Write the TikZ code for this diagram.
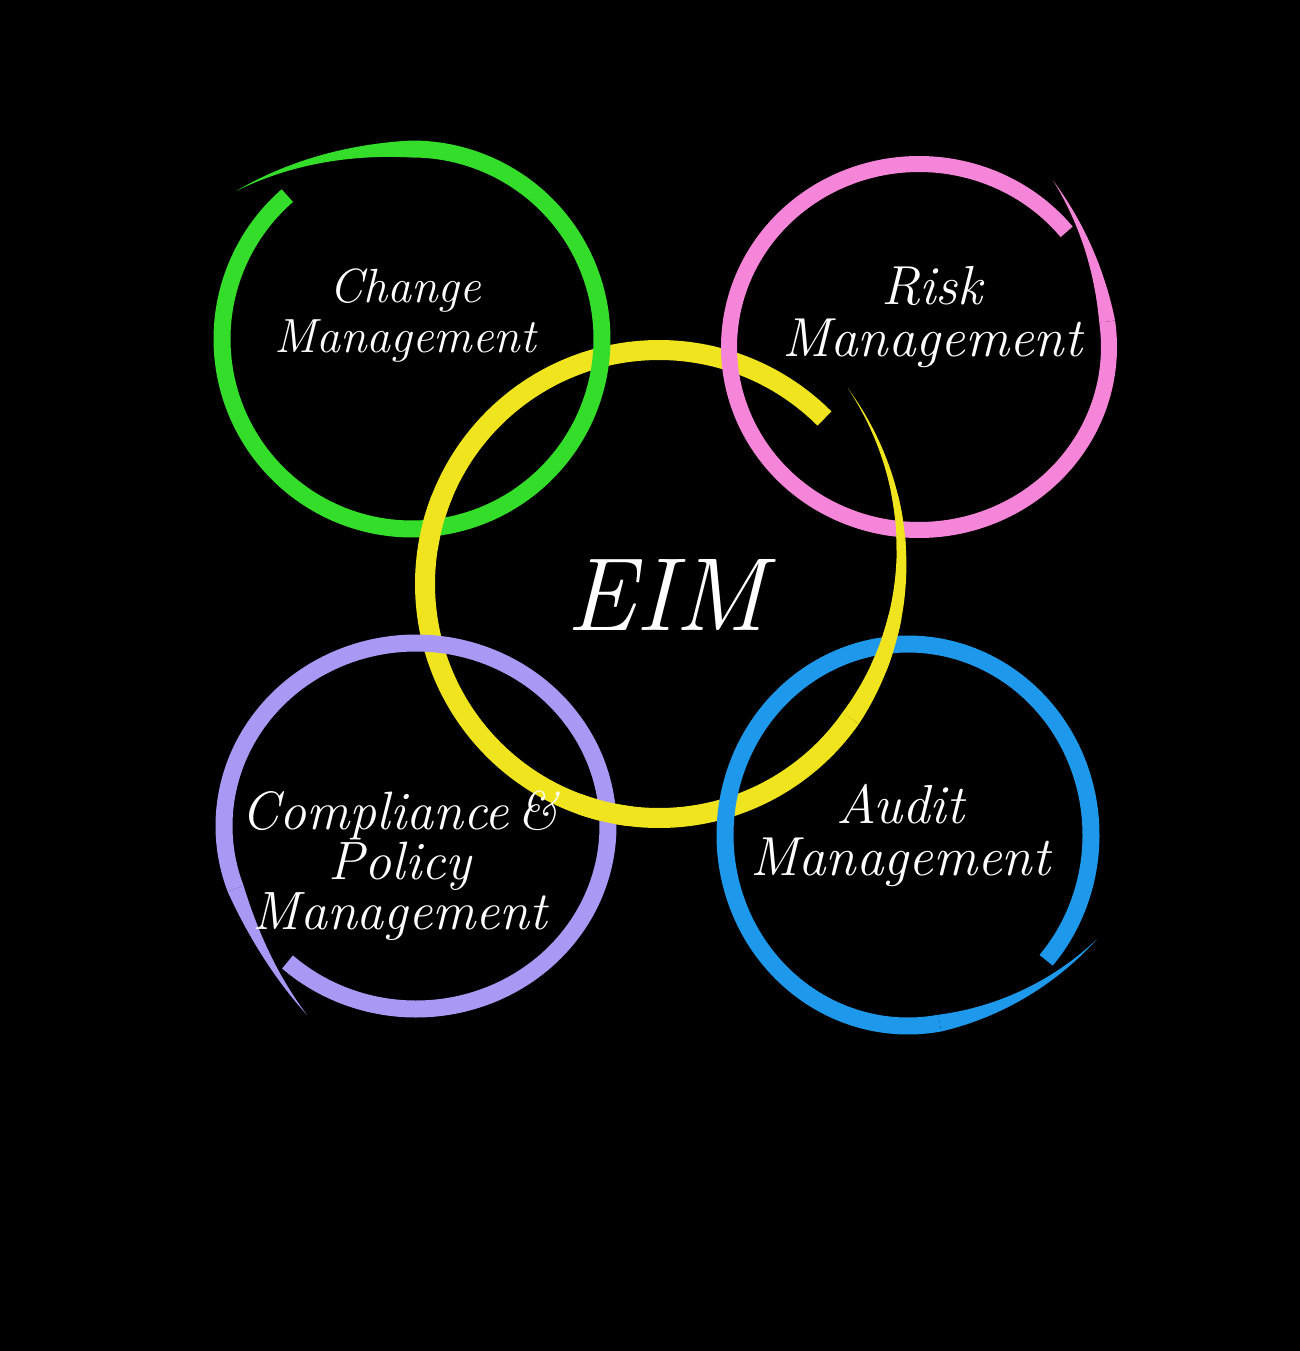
\documentclass[tikz,border=0pt]{standalone}
\usepackage{fontspec}
\usepackage{tikz}
\definecolor{cgreen}{HTML}{33DD2A}
\definecolor{cpink}{HTML}{F585D8}
\definecolor{cyellow}{HTML}{F0E41E}
\definecolor{cpurple}{HTML}{AA98F5}
\definecolor{cblue}{HTML}{1E98EB}

\tikzset{
  lbl/.style={text=white, align=center, inner sep=0pt, font=\itshape\fontsize{55}{52}\selectfont},
}

% brush ring: colour, centre, rx, ry, start, end of thick part, tail end, drift, width
\newcommand{\brushring}[9]{%
  \def\brS{(((#6)-(\x))/((#6)-(#7)))}%
  \begin{scope}[shift={(#2)}]
    \draw[color=#1, line width=#9pt] plot[domain=#5:#6, samples=120, smooth] ({#3*cos(\x)},{#4*sin(\x)});
    \fill[color=#1] plot[domain=#6:#7, samples=40, smooth]
        ({(#3+#8*\brS^2+#9/2*(1-\brS))*cos(\x)},{(#4+#8*\brS^2+#9/2*(1-\brS))*sin(\x)})
      -- plot[domain=#7:#6, samples=40, smooth]
        ({(#3+#8*\brS^2-#9/2*(1-\brS))*cos(\x)},{(#4+#8*\brS^2-#9/2*(1-\brS))*sin(\x)})
      -- cycle;
  \end{scope}}
\newcommand{\eimring}{\brushring{cyellow}{eimc}{234}{234}{-45}{-325}{-406}{38}{20}}

\begin{document}
\begin{tikzpicture}[x=1pt,y=-1pt]
  \fill[black] (0,0) rectangle (1300,1351);
  \useasboundingbox (0,0) rectangle (1300,1351);

  \coordinate (eimc) at (659,584);
  \coordinate (chgc) at (412,339);
  \coordinate (riskc) at (919,347);
  \coordinate (compc) at (416,826);
  \coordinate (auditc) at (908,835);

  \eimring
  \brushring{cgreen}{chgc}{190}{190}{229}{-90}{-140}{40}{17}
  \brushring{cpink}{riskc}{190}{183}{-39}{-368}{-412}{28}{16}
  \brushring{cpurple}{compc}{192}{183}{492}{160}{119}{33}{17}
  \brushring{cblue}{auditc}{183}{191}{401}{80}{28}{31}{17}

  % yellow passes over here
  \foreach \p in {(440,522),(896,522),(605,808),(888,643)}{
    \begin{scope}
      \clip \p circle[radius=28pt];
      \eimring
    \end{scope}
  }

  \node[lbl, font=\itshape\fontsize{48}{50}\selectfont] (chg) at (405,315) {Change\\Management};
  \node[lbl] (risk) at (932,317) {Risk\\Management};
  \node[lbl, font=\itshape\fontsize{104}{104}\selectfont, anchor=base] (eim) at (666,630) {EIM};
  \node[lbl, font=\itshape\fontsize{54}{50}\selectfont] (comp) at (400,866) {Compliance\,\&\\Policy\\Management};
  \node[lbl] (audit) at (900,835) {Audit\\Management};
\end{tikzpicture}
\end{document}
